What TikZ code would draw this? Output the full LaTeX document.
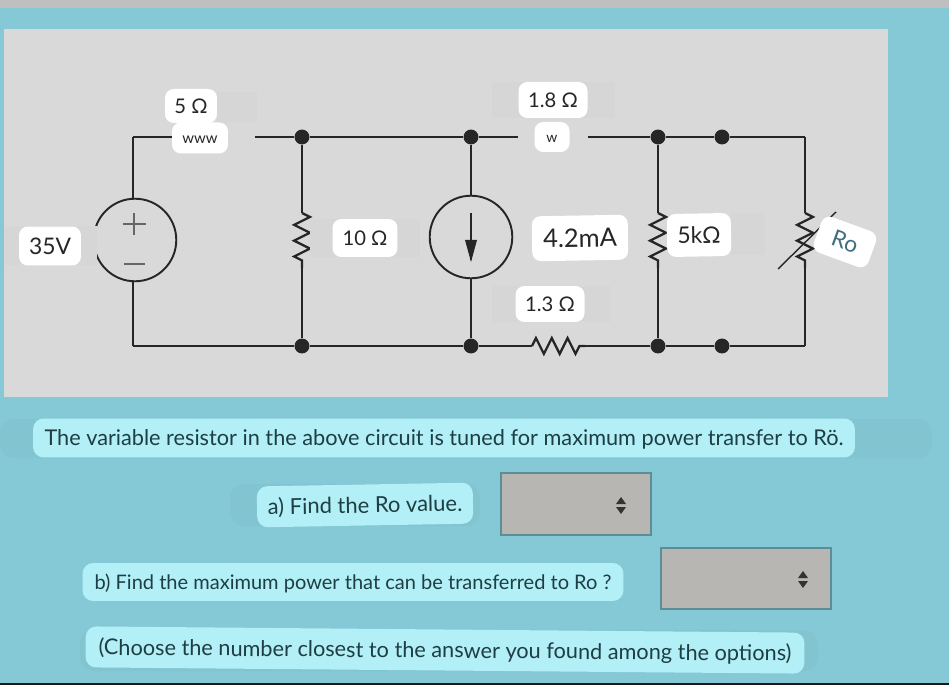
\documentclass[tikz,border=0pt]{standalone}
\usepackage{fontspec}
\setmainfont{Lato}
\usetikzlibrary{decorations.pathmorphing}

\definecolor{teal bg}{HTML}{85C9D6}
\definecolor{panel}{HTML}{D9D9D9}
\definecolor{patch}{HTML}{D6D6D6}
\definecolor{teal patch}{HTML}{82C5D1}
\definecolor{cyan box}{HTML}{B2EFF6}
\definecolor{select}{HTML}{B8B6B2}
\definecolor{ink}{HTML}{1E3E44}
\definecolor{ro ink}{HTML}{3F6E7E}

\tikzset{
  wire/.style={line width=1.1pt, color=black!85},
  dot/.style={circle, fill=black!85, inner sep=0pt, minimum size=8.5pt},
  source/.style={circle, draw=black!85, line width=1.1pt, inner sep=0pt, minimum size=47pt},
  resistor/.style={wire, line width=1.3pt, decorate, decoration={zigzag, segment length=9pt, amplitude=4.5pt}},
  label/.style={fill=white, rounded corners=5pt, inner sep=0pt, text height=8.5pt, text depth=0pt, text=black!85, font=\fontsize{11.5}{12}\selectfont},
  question/.style={fill=cyan box, rounded corners=6pt, inner sep=0pt, text height=9pt, text depth=0pt, text=ink},
  selectbox/.style={fill=select, draw=black!30!teal bg, line width=0.8pt, inner sep=0pt},
  tri/.style={fill=black!80, draw=none}
}

\begin{document}
\begin{tikzpicture}[x=0.02cm, y=-0.02cm]
\useasboundingbox (0,0) rectangle (949,685);
\fill[teal bg] (0,0) rectangle (949,685); %page
\fill[black!25] (0,0) rectangle (949,8); %top strip
\fill[black!90] (0,683) rectangle (949,685); %bottom edge
\fill[panel] (4,29) rectangle (888,397); %circuit panel

\node[dot] (n1) at (302,137) {};
\node[dot] (n2) at (471,137) {};
\node[dot] (n3) at (658,137) {};
\node[dot] (n4) at (722,137) {};
\node[dot] (m1) at (302,346) {};
\node[dot] (m2) at (471,346) {};
\node[dot] (m3) at (658,346) {};
\node[dot] (m4) at (722,346) {};

\coordinate (tl) at (133,137);
\coordinate (bl) at (133,346);
\coordinate (tr) at (805,137);
\coordinate (br) at (805,346);

\node[source] (vs) at (135,240) {};
\node[source] (cs) at (471,237) {};

\draw[wire] (tl) -- (n1) -- (n2) -- (n3) -- (n4) -- (tr); %top rail
\draw[wire] (tl) -- (tl |- vs.north);
\draw[wire] (bl) -- (bl |- vs.south);
\draw[wire] (bl) -- (m1) -- (m2);
\draw[wire] (n2) -- (cs.north);
\draw[wire] (cs.south) -- (m2);

\coordinate (r1a) at (302,213);
\coordinate (r1b) at (302,268);
\coordinate (r2a) at (658,213);
\coordinate (r2b) at (658,268);
\coordinate (r3a) at (805,213);
\coordinate (r3b) at (805,268);
\coordinate (r4a) at (532,346);
\coordinate (r4b) at (585,346);

\draw[wire] (n1) -- (r1a);
\draw[resistor] (r1a) -- (r1b); %10 ohm
\draw[wire] (r1b) -- (m1);
\draw[wire] (n3) -- (r2a);
\draw[resistor] (r2a) -- (r2b); %5k
\draw[wire] (r2b) -- (m3);
\draw[wire] (tr) -- (r3a);
\draw[resistor] (r3a) -- (r3b); %variable
\draw[wire] (r3b) -- (br);
\draw[wire] (m2) -- (r4a);
\draw[resistor] (r4a) -- (r4b); %1.3 ohm
\draw[wire] (r4b) -- (m3) -- (m4) -- (br);

\coordinate (var1) at (778,269);
\coordinate (var2) at (836,212);
\draw[wire, line width=0.8pt] (var1) -- (var2); %tuning stroke

\coordinate (plusl) at (123,224);
\coordinate (plusr) at (146,224);
\coordinate (plust) at (134,213);
\coordinate (plusb) at (134,235);
\coordinate (minusl) at (124,264);
\coordinate (minusr) at (145,264);
\draw[wire, black!60] (plusl) -- (plusr);
\draw[wire, black!60] (plust) -- (plusb);
\draw[wire, black!60] (minusl) -- (minusr);

\coordinate (arr1) at (471,213);
\coordinate (arr2) at (471,260);
\draw[wire] (arr1) -- (arr2);
\fill[black!85] (471,262) -- (465,240) -- (477,240) -- cycle; %current arrow

\fill[patch] (4,226) rectangle (97,265); %patches behind labels
\fill[patch] (217,92) rectangle (257,122);
\fill[panel] (172,122) rectangle (255,153);
\fill[patch] (310,219) rectangle (420,257);
\fill[patch] (492,82) rectangle (615,118);
\fill[panel] (518,122) rectangle (588,152);
\fill[patch] (492,286) rectangle (610,322);
\fill[patch] (731,213) rectangle (765,255);
\fill[teal patch, rounded corners=8pt] (0,419) rectangle (932,458);
\fill[teal patch, rounded corners=8pt] (230,484) rectangle (480,526);
\fill[teal patch, rounded corners=8pt] (80,630) rectangle (818,671);

\node[label, minimum width=52pt*0.569, minimum height=34pt*0.569] (l5) at (191,106) {5 Ω};
\node[label, minimum width=56pt*0.569, minimum height=31pt*0.569, text height=6pt, font=\fontsize{8.5}{9}\selectfont] (lwww) at (200,138) {www};
\node[label, minimum width=62pt*0.569, minimum height=39pt*0.569, text height=9.5pt, font=\fontsize{13}{14}\selectfont] (l35) at (50,246) {35V};
\node[label, minimum width=65pt*0.569, minimum height=38pt*0.569] (l10) at (365,238) {10 Ω};
\node[label, minimum width=69pt*0.569, minimum height=36pt*0.569] (l18) at (553,100) {1.8 Ω};
\node[label, minimum width=35pt*0.569, minimum height=30pt*0.569, text height=6pt, font=\fontsize{8}{9}\selectfont] (lw) at (552,137) {w};
\node[label, minimum width=96pt*0.569, minimum height=45pt*0.569, rotate=1, text height=10.5pt, font=\fontsize{14.5}{15}\selectfont] (l42) at (580,238) {4.2mA};
\node[label, minimum width=69pt*0.569, minimum height=36pt*0.569] (l13) at (550,304) {1.3 Ω};
\node[label, minimum width=64pt*0.569, minimum height=43pt*0.569, rotate=1, text height=9.5pt, font=\fontsize{13}{14}\selectfont] (l5k) at (699,235) {5kΩ};
\node[label, minimum width=58pt*0.569, minimum height=38pt*0.569, rotate=-20, text=ro ink, text height=9pt, font=\fontsize{13}{14}\selectfont] (lro) at (845,242) {Ro};

\node[question, minimum width=822pt*0.569, minimum height=39pt*0.569, font=\fontsize{12.35}{13}\selectfont] (q1) at (444,438) {The variable resistor in the above circuit is tuned for maximum power transfer to Rö.};
\node[question, minimum width=216pt*0.569, minimum height=41pt*0.569, rotate=1, font=\fontsize{12.5}{13}\selectfont] (qa) at (365,505) {a) Find the Ro value.};
\node[question, minimum width=541pt*0.569, minimum height=38pt*0.569, font=\fontsize{11.4}{12}\selectfont] (qb) at (353,582) {b) Find the maximum power that can be transferred to Ro ?};
\node[question, minimum width=719pt*0.569, minimum height=41pt*0.569, rotate=-0.5, font=\fontsize{12.35}{13}\selectfont] (qc) at (445,650) {(Choose the number closest to the answer you found among the options)};

\node[selectbox, minimum width=150pt*0.569, minimum height=62pt*0.569] (sa) at (576,504) {};
\node[selectbox, minimum width=170pt*0.569, minimum height=61pt*0.569] (sb) at (746,578.5) {};

\fill[tri] (621,497) -- (626,504) -- (616,504) -- cycle; %select arrows
\fill[tri] (621,514) -- (626,507) -- (616,507) -- cycle;
\fill[tri] (803,571) -- (808,578) -- (798,578) -- cycle;
\fill[tri] (803,588) -- (808,581) -- (798,581) -- cycle;
\end{tikzpicture}
\end{document}
